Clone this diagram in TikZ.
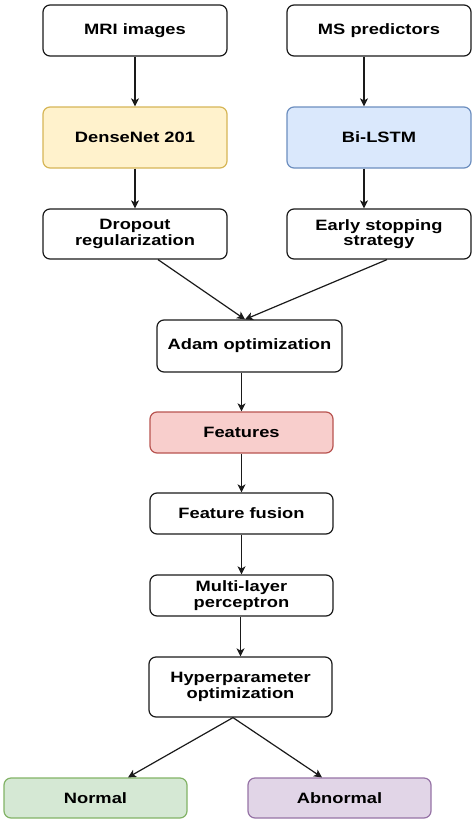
\documentclass[tikz,border=0pt]{standalone}
\usepackage{fontspec}
\setmainfont{Liberation Sans}[FakeStretch=1.22]
\usetikzlibrary{arrows.meta}
\definecolor{ylwF}{HTML}{FFF2CC}\definecolor{ylwD}{HTML}{D6B656}
\definecolor{bluF}{HTML}{DAE8FC}\definecolor{bluD}{HTML}{6C8EBF}
\definecolor{redF}{HTML}{F8CECC}\definecolor{redD}{HTML}{B85450}
\definecolor{grnF}{HTML}{D5E8D4}\definecolor{grnD}{HTML}{82B366}
\definecolor{purF}{HTML}{E1D5E7}\definecolor{purD}{HTML}{9673A6}
\definecolor{lineC}{HTML}{1A1A1A}
\tikzset{
  box/.style={draw=lineC, line width=1.2pt, rounded corners=7pt, fill=white,
    align=center, inner sep=0pt, font=\fontsize{15}{15.5}\selectfont\bfseries,
    minimum width=184pt},
  arr/.style={draw=lineC, line width=1.2pt, -{Stealth[length=8pt,width=8pt,inset=2pt]}}
}
\begin{document}
\begin{tikzpicture}[x=1pt,y=-1pt]
\useasboundingbox (0,0) rectangle (474,822);
\node[box, minimum height=51pt] (mri) at (135,30.5) {MRI images};
\node[box, minimum height=51pt] (ms) at (379,30.5) {MS predictors};
\node[box, minimum height=61pt, fill=ylwF, draw=ylwD] (dense) at (135,137.5) {DenseNet 201};
\node[box, minimum height=61pt, fill=bluF, draw=bluD] (lstm) at (379,137.5) {Bi-LSTM};
\node[box, minimum height=50pt] (drop) at (135,234) {Dropout\\regularization};
\node[box, minimum height=50pt] (early) at (379,234) {Early stopping\\strategy};
\node[box, minimum height=52pt, minimum width=185pt] (adam) at (249.5,346) {Adam optimization};
\node[box, minimum height=41pt, minimum width=183pt, fill=redF, draw=redD] (feat) at (241.5,432.5) {Features};
\node[box, minimum height=41pt, minimum width=183pt] (fusion) at (241.5,513.5) {Feature fusion};
\node[box, minimum height=41pt, minimum width=183pt] (mlp) at (241.5,595.5) {Multi-layer\\perceptron};
\node[box, minimum height=60pt, minimum width=183pt] (hyper) at (240.5,687) {Hyperparameter\\optimization};
\node[box, minimum height=40pt, minimum width=183pt, fill=grnF, draw=grnD] (normal) at (95.5,798) {Normal};
\node[box, minimum height=40pt, minimum width=183pt, fill=purF, draw=purD] (abn) at (339.5,798) {Abnormal};

\draw[arr] (mri.south) -- (dense.north);
\draw[arr] ([xshift=-15pt]ms.south) -- ([xshift=-15pt]lstm.north);
\draw[arr] (dense.south) -- (drop.north);
\draw[arr] ([xshift=-15pt]lstm.south) -- ([xshift=-15pt]early.north);
\draw[arr] ([xshift=23pt]drop.south) -- ([xshift=-4.5pt]adam.north);
\draw[arr] ([xshift=8pt]early.south) -- ([xshift=-4.5pt]adam.north);
\draw[arr] (adam.south -| feat.north) -- (feat.north);
\draw[arr] (feat.south) -- (fusion.north);
\draw[arr] (fusion.south) -- (mlp.north);
\draw[arr] (mlp.south -| hyper.north) -- (hyper.north);
\draw[arr] ([xshift=-7.5pt]hyper.south) -- ([xshift=32.5pt]normal.north);
\draw[arr] ([xshift=-7.5pt]hyper.south) -- ([xshift=-17.5pt]abn.north);
\end{tikzpicture}
\end{document}
